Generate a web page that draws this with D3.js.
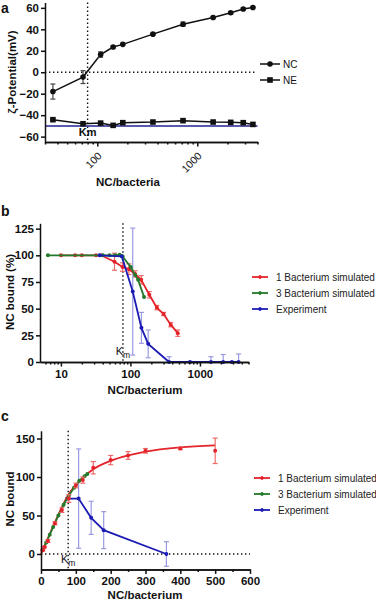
<!DOCTYPE html>
<html>
<head>
<meta charset="utf-8">
<style>
  body { margin: 0; background: #fff; }
  svg text { font-family: "Liberation Sans", Arial, sans-serif; fill: #111; }
  .tick text { font-weight: bold; font-size: 11.5px; }
  .domain, .tick line { stroke: #111; stroke-width: 1.5; }
</style>
</head>
<body>
<svg width="376" height="602"></svg>
<script src="https://d3js.org/d3.v7.min.js"></script>
<script>
// ---- panel a: zeta potential ----
const aX = [36, 72, 108, 144, 180, 360, 720, 1440, 2160, 2880, 3600];
const aNC = [-18, -4.5, 16.5, 23.5, 26, 35.5, 44.8, 51, 55.4, 58.9, 60.4];
const aNCerr = [7, 6, 2.5, 1, 1, 1, 2, 1, 1, 1, 0.5];
const aNE = [-44.2, -48, -47.4, -49.5, -47, -46.4, -45.1, -46.4, -46.7, -47, -48.6];
const aBaseline = -50;
const aKm = 80;
const aYTicks = [-60, -40, -20, 0, 20, 40, 60];
const aXTicks = [100, 1000];
const aXMinor = [30, 40, 50, 60, 70, 80, 90, 200, 300, 400, 500, 600, 700, 800, 900, 2000, 3000, 4000];
const aLegend = ["NC", "NE"];

// ---- panel b: % bound ----
const bRedX = [10, 16, 20, 32, 38, 59, 77, 95, 117, 143, 187, 240, 300, 380, 480];
const bRedY = [100, 100, 100, 100, 100, 94, 89, 87, 82.5, 77, 63, 51, 45, 35, 27];
const bRedErr = [0, 0, 0, 0, 0, 8, 4, 5, 3, 4, 3, 2, 1.5, 2, 3];
const bGreenX = [6.5, 40, 50, 60, 70, 77, 101, 117, 129, 157];
const bGreenY = [100, 100, 100, 100, 100.5, 99, 89, 81.5, 77, 61];
const bBlueX = [36, 75, 108, 144, 180, 360, 720, 1440, 2160, 2880, 3600];
const bBlueY = [100, 99, 66, 32, 17, 0, 0, 0, 0, 0, 0];
const bBlueErr = [0, 0, 59.5, 14.5, 13, 5, 0.5, 5, 7, 0.5, 7.5];
const bYTicks = [0, 25, 50, 75, 100, 125];
const bXTicks = [10, 100, 1000];
const bXMinor = [6, 7, 8, 9, 20, 30, 40, 50, 60, 70, 80, 90, 200, 300, 400, 500, 600, 700, 800, 900, 2000, 3000, 4000, 5000];

// ---- panel c: NC bound ----
const cRedX = [5, 10, 20, 40, 60, 80, 100, 120, 150, 200, 250, 300, 400, 500];
const cRedY = [5, 9, 17, 40, 57, 72, 89, 96, 112, 122, 128, 134, 137, 134];
const cRedErr = [1, 1, 2, 2, 3, 5, 3, 4, 8, 6, 5, 3, 1.5, 16.5];
const cFitX = [0, 20, 40, 60, 80, 100, 125, 150, 200, 250, 300, 400, 500];
const cFitY = [0, 20.5, 41, 61, 78, 89.5, 101, 110, 121, 128, 133, 138.5, 141];
const cGreenX = [5, 15, 25, 35, 50, 65, 80, 95, 110, 125, 133];
const cGreenY = [5, 15, 25, 35, 50, 64, 76, 86, 95, 101, 104];
const cBlueX = [75, 108, 144, 180, 360];
const cBlueY = [72, 72, 47, 31, 0];
const cBlueErr = [0, 64.5, 21.5, 24, 16];
const cYTicks = [0, 50, 100, 150];
const cXTicks = [0, 100, 200, 300, 400, 500, 600];
const cXMinor = [50, 150, 250, 350, 450, 550];

const Km = 78;
const seriesNames = ["1 Bacterium simulated", "3 Bacterium simulated", "Experiment"];
const RED = "#e3242b", GREEN = "#237a2a", BLUE = "#1c1cb4";
const RED_ERR = "#ee6a6a", BLUE_ERR = "#9a9ae2";

const svg = d3.select("svg");
const zip = (xs, ys) => xs.map((x, i) => [x, ys[i]]);

function errorBars(g, xs, ys, es, x, y, color, w, floor) {
  xs.forEach((xv, i) => {
    if (!es[i]) return;
    const lo = floor === undefined ? ys[i] - es[i] : Math.max(floor, ys[i] - es[i]);
    const hi = ys[i] + es[i];
    const cx = x(xv);
    g.append("line").attr("x1", cx).attr("x2", cx).attr("y1", y(lo)).attr("y2", y(hi))
      .attr("stroke", color).attr("stroke-width", 1.2);
    [lo, hi].forEach(v => {
      if (floor !== undefined && v === floor) return;
      g.append("line").attr("x1", cx - w).attr("x2", cx + w).attr("y1", y(v)).attr("y2", y(v))
        .attr("stroke", color).attr("stroke-width", 1.2);
    });
  });
}

function kmLabel(g, x, y, sub, bold) {
  const t = g.append("text").attr("x", x).attr("y", y).attr("text-anchor", "middle")
    .style("font-size", "11px").style("fill", "#111").style("font-weight", bold ? "bold" : "normal");
  t.append("tspan").text("K");
  t.append("tspan").text("m").attr("dy", sub ? 2.5 : 0)
    .style("font-size", sub ? "8.5px" : "11px");
}

function panelLetter(t, y) {
  svg.append("text").attr("x", 1).attr("y", y).text(t)
    .style("font-weight", "bold").style("font-size", "14px");
}

function yTitle(t, x, y) {
  svg.append("text").attr("transform", `translate(${x},${y}) rotate(-90)`)
    .attr("text-anchor", "middle").text(t)
    .style("font-weight", "bold").style("font-size", "11.5px");
}

function xTitle(t, x, y) {
  svg.append("text").attr("x", x).attr("y", y).attr("text-anchor", "middle").text(t)
    .style("font-weight", "bold").style("font-size", "11.5px");
}

function lineLegend(g, x0, y0, items) {
  items.forEach((it, i) => {
    const yy = y0 + i * 16;
    g.append("line").attr("x1", x0).attr("x2", x0 + 16).attr("y1", yy).attr("y2", yy)
      .attr("stroke", it.color).attr("stroke-width", 1.8);
    g.append("circle").attr("cx", x0 + 8).attr("cy", yy).attr("r", 1.8).attr("fill", it.color);
    g.append("line").attr("x1", x0 + 8).attr("x2", x0 + 8).attr("y1", yy - 2).attr("y2", yy + 2)
      .attr("stroke", it.color).attr("stroke-width", 1);
    g.append("text").attr("x", x0 + 24).attr("y", yy).attr("dy", "0.35em").text(it.name)
      .style("font-size", "10px").style("fill", "#222");
  });
}

// ================= panel a =================
const xa = d3.scaleLog().domain([30, 4000]).range([45, 257.5]);
const ya = d3.scaleLinear().domain([-65, 65]).range([142, 2.5]);
const ga = svg.append("g");

// dotted reference lines
ga.append("line").attr("x1", xa.range()[0]).attr("x2", xa(3800)).attr("y1", ya(0)).attr("y2", ya(0))
  .attr("stroke", "#111").attr("stroke-width", 1.4).attr("stroke-dasharray", "1.4,2.6");
ga.append("line").attr("x1", xa(aKm)).attr("x2", xa(aKm)).attr("y1", ya(65)).attr("y2", ya(-65))
  .attr("stroke", "#111").attr("stroke-width", 1.4).attr("stroke-dasharray", "1.4,2.6");
ga.append("line").attr("x1", xa.range()[0]).attr("x2", xa.range()[1]).attr("y1", ya(aBaseline)).attr("y2", ya(aBaseline))
  .attr("stroke", "#23238f").attr("stroke-width", 1.5);

const lineA = d3.line().x(d => xa(d[0])).y(d => ya(d[1]));
ga.append("path").datum(zip(aX, aNC)).attr("d", lineA).attr("fill", "none").attr("stroke", "#111").attr("stroke-width", 1.5);
ga.append("path").datum(zip(aX, aNE)).attr("d", lineA).attr("fill", "none").attr("stroke", "#111").attr("stroke-width", 1.5);
errorBars(ga, aX, aNC, aNCerr, xa, ya, "#444", 2.5);
ga.selectAll("circle.nc").data(zip(aX, aNC)).join("circle").attr("class", "nc")
  .attr("cx", d => xa(d[0])).attr("cy", d => ya(d[1])).attr("r", 2.8).attr("fill", "#111");
ga.selectAll("rect.ne").data(zip(aX, aNE)).join("rect").attr("class", "ne")
  .attr("x", d => xa(d[0]) - 2.8).attr("y", d => ya(d[1]) - 2.8).attr("width", 5.6).attr("height", 5.6).attr("fill", "#111");

ga.append("g").attr("transform", `translate(${xa.range()[0]},0)`)
  .call(d3.axisLeft(ya).tickValues(aYTicks).tickSize(4).tickPadding(2).tickSizeOuter(0));
ga.append("g").attr("transform", `translate(0,${ya.range()[0]})`)
  .call(d3.axisBottom(xa).tickValues(aXMinor).tickSize(2.5).tickFormat("").tickSizeOuter(0));
const axA = ga.append("g").attr("transform", `translate(0,${ya.range()[0]})`)
  .call(d3.axisBottom(xa).tickValues(aXTicks).tickSize(4.5).tickFormat(d3.format("d")).tickSizeOuter(0));
axA.selectAll(".tick text").attr("x", 0).attr("y", 0).attr("dy", "0.35em")
  .attr("text-anchor", "end").attr("transform", "translate(2,12) rotate(-45)")
  .style("font-weight", "normal").style("font-size", "10.5px");

kmLabel(ga, xa(aKm), 136, false, true);

// legend a
aLegend.forEach((name, i) => {
  const yy = 64 + i * 16;
  ga.append("line").attr("x1", 260).attr("x2", 280).attr("y1", yy).attr("y2", yy).attr("stroke", "#111").attr("stroke-width", 1.5);
  if (i === 0) ga.append("circle").attr("cx", 270).attr("cy", yy).attr("r", 2.8).attr("fill", "#111");
  else ga.append("rect").attr("x", 267.2).attr("y", yy - 2.8).attr("width", 5.6).attr("height", 5.6).attr("fill", "#111");
  ga.append("text").attr("x", 283).attr("y", yy).attr("dy", "0.35em").text(name).style("font-size", "10px");
});

panelLetter("a", 13);
yTitle("ζ-Potential(mV)", 16, 72);
xTitle("NC/bacteria", 128, 186);

// ================= panel b =================
const xb = d3.scaleLog().domain([5, 5000]).range([40, 248.5]);
const yb = d3.scaleLinear().domain([0, 130]).range([362, 223.3]);
const gb = svg.append("g");

gb.append("line").attr("x1", xb(Km)).attr("x2", xb(Km)).attr("y1", yb(130)).attr("y2", yb(0))
  .attr("stroke", "#111").attr("stroke-width", 1.4).attr("stroke-dasharray", "1.4,2.6");

const lineB = d3.line().x(d => xb(d[0])).y(d => yb(d[1]));
errorBars(gb, bRedX, bRedY, bRedErr, xb, yb, RED_ERR, 2.5);
errorBars(gb, bBlueX, bBlueY, bBlueErr, xb, yb, BLUE_ERR, 2.5, 0);
[[bRedX, bRedY, RED], [bGreenX, bGreenY, GREEN], [bBlueX, bBlueY, BLUE]].forEach(([xs, ys, col]) => {
  gb.append("path").datum(zip(xs, ys)).attr("d", lineB).attr("fill", "none").attr("stroke", col).attr("stroke-width", 1.8);
  gb.append("g").selectAll("circle").data(zip(xs, ys)).join("circle")
    .attr("cx", d => xb(d[0])).attr("cy", d => yb(d[1])).attr("r", 2).attr("fill", col);
});

gb.append("g").attr("transform", `translate(${xb.range()[0]},0)`)
  .call(d3.axisLeft(yb).tickValues(bYTicks).tickSize(4).tickPadding(2).tickSizeOuter(0));
gb.append("g").attr("transform", `translate(0,${yb(0)})`)
  .call(d3.axisBottom(xb).tickValues(bXMinor).tickSize(2.5).tickFormat("").tickSizeOuter(0));
gb.append("g").attr("transform", `translate(0,${yb(0)})`)
  .call(d3.axisBottom(xb).tickValues(bXTicks).tickSize(4.5).tickPadding(3).tickFormat(d3.format("d")).tickSizeOuter(0));

kmLabel(gb, xb(Km), 355, true, false);
lineLegend(gb, 252, 277, seriesNames.map((n, i) => ({ name: n, color: [RED, GREEN, BLUE][i] })));

panelLetter("b", 216);
yTitle("NC bound (%)", 14, 292);
xTitle("NC/bacterium", 145, 394);

// ================= panel c =================
const xc = d3.scaleLinear().domain([0, 600]).range([41, 250]);
const yc = d3.scaleLinear().domain([-20, 160]).range([569.4, 430.8]);
const gc = svg.append("g");

gc.append("line").attr("x1", xc(0)).attr("x2", xc(600)).attr("y1", yc(0)).attr("y2", yc(0))
  .attr("stroke", "#111").attr("stroke-width", 1.4).attr("stroke-dasharray", "1.4,2.6");
gc.append("line").attr("x1", xc(Km)).attr("x2", xc(Km)).attr("y1", yc(160)).attr("y2", yc(-20))
  .attr("stroke", "#111").attr("stroke-width", 1.4).attr("stroke-dasharray", "1.4,2.6");

const lineC = d3.line().x(d => xc(d[0])).y(d => yc(d[1]));
errorBars(gc, cBlueX, cBlueY, cBlueErr, xc, yc, BLUE_ERR, 2.5);
gc.append("path").datum(zip(cBlueX, cBlueY)).attr("d", lineC).attr("fill", "none").attr("stroke", BLUE).attr("stroke-width", 1.8);
gc.append("g").selectAll("circle").data(zip(cBlueX, cBlueY)).join("circle")
  .attr("cx", d => xc(d[0])).attr("cy", d => yc(d[1])).attr("r", 2).attr("fill", BLUE);

gc.append("path").datum(zip(cFitX, cFitY)).attr("d", d3.line().x(d => xc(d[0])).y(d => yc(d[1])).curve(d3.curveMonotoneX))
  .attr("fill", "none").attr("stroke", RED).attr("stroke-width", 1.8);
gc.append("path").datum(zip(cGreenX, cGreenY)).attr("d", lineC)
  .attr("fill", "none").attr("stroke", GREEN).attr("stroke-width", 1.8);
gc.append("g").selectAll("circle").data(zip(cGreenX, cGreenY)).join("circle")
  .attr("cx", d => xc(d[0])).attr("cy", d => yc(d[1])).attr("r", 2).attr("fill", GREEN);
errorBars(gc, cRedX, cRedY, cRedErr, xc, yc, RED_ERR, 2.5);
gc.append("g").selectAll("circle").data(zip(cRedX, cRedY)).join("circle")
  .attr("cx", d => xc(d[0])).attr("cy", d => yc(d[1])).attr("r", 2).attr("fill", RED);

gc.append("g").attr("transform", `translate(${xc.range()[0]},0)`)
  .call(d3.axisLeft(yc).tickValues(cYTicks).tickSize(4).tickPadding(2).tickSizeOuter(0));
gc.append("g").attr("transform", `translate(0,${yc.range()[0]})`)
  .call(d3.axisBottom(xc).tickValues(cXMinor).tickSize(2.5).tickFormat("").tickSizeOuter(0));
gc.append("g").attr("transform", `translate(0,${yc.range()[0]})`)
  .call(d3.axisBottom(xc).tickValues(cXTicks).tickSize(4.5).tickPadding(3).tickSizeOuter(0));

kmLabel(gc, xc(Km), 563, true, false);
lineLegend(gc, 254, 478, seriesNames.map((n, i) => ({ name: n, color: [RED, GREEN, BLUE][i] })));

panelLetter("c", 421);
yTitle("NC bound", 14, 499);
xTitle("NC/bacterium", 145, 599);
</script>
</body>
</html>
